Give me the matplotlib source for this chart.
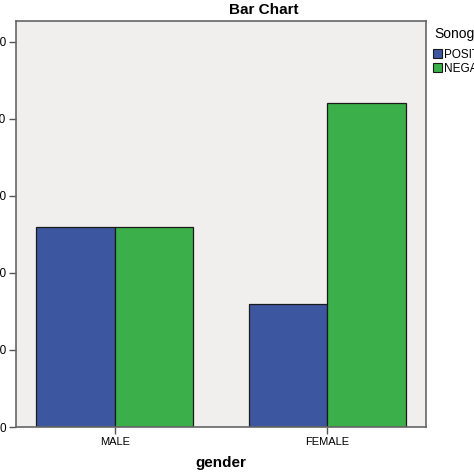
import numpy as np
import matplotlib
matplotlib.use('Agg')
import matplotlib.pyplot as plt

plt.rcParams['font.family'] = ['Liberation Sans', 'DejaVu Sans']

# data
genders = ['MALE', 'FEMALE']
positive = [26, 16]
negative = [26, 42]
series_labels = ['POSITIVE', 'NEGATIVE']
yticks = [0, 10, 20, 30, 40, 50]

BLUE = '#3d56a0'
GREEN = '#3bb04a'

fig = plt.figure(figsize=(4.74, 4.74), dpi=100)
ax = fig.add_axes([16/474, 47/474, 410/474, 406/474])
ax.set_facecolor('#f0efed')

x = np.arange(len(genders))
w = 0.37
ax.bar(x - w/2, positive, w, color=BLUE, edgecolor='#1a1a1a', linewidth=0.9, label=series_labels[0])
ax.bar(x + w/2, negative, w, color=GREEN, edgecolor='#1a1a1a', linewidth=0.9, label=series_labels[1])

ax.set_xlim(-0.465, 1.465)
ax.set_ylim(0, 52.7)
ax.set_xticks(x)
ax.set_xticklabels(genders, fontsize=8)
ax.set_yticks(yticks)
ax.set_yticklabels([str(v) for v in yticks], fontsize=8.5)
ax.tick_params(axis='both', length=5, width=1, color='#555555', pad=2)
for s in ax.spines.values():
    s.set_color('#666666')
    s.set_linewidth(1.2)

ax.set_xlabel('gender', fontsize=11, fontweight='bold', labelpad=7)
fig.text(264/474, 1 - 10/474, 'Bar Chart', ha='center', va='center', fontsize=11, fontweight='bold')

# legend: title placed by hand, entries below it
fig.text(434/474, 1 - 34/474, 'Sonography', ha='left', va='center', fontsize=10)
leg = fig.legend(loc='upper left', bbox_to_anchor=(433/474, 1 - 49/474),
                 fontsize=8.5, frameon=False, handlelength=0.8,
                 handleheight=0.8, handletextpad=0.15, labelspacing=0.15, borderpad=0,
                 borderaxespad=0)
for p in leg.get_patches():
    p.set_edgecolor('#1a1a1a')
    p.set_linewidth(0.8)

fig.savefig('out.png', dpi=100)
